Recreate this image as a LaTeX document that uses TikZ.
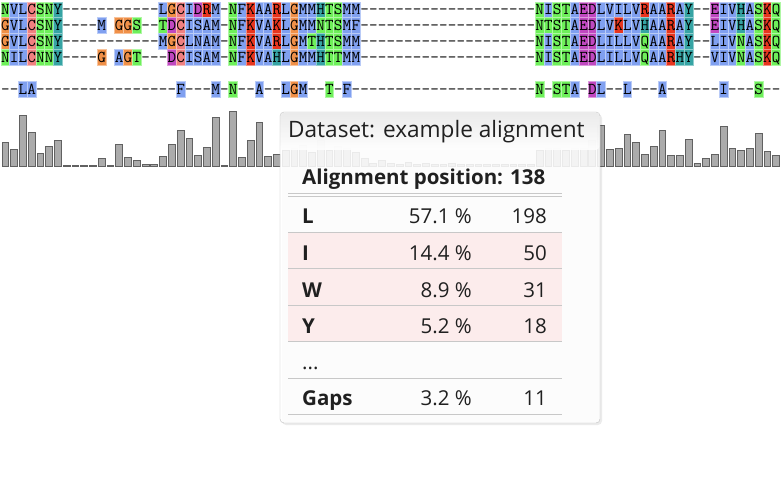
\documentclass[tikz,border=0pt]{standalone}
\usepackage{fontspec}
\usepackage{xstring}
\setmainfont{Open Sans}
\newfontfamily\monof{Latin Modern Mono}
\definecolor{ab}{HTML}{80A0F0}
\definecolor{ar}{HTML}{E8351E}
\definecolor{am}{HTML}{C048C0}
\definecolor{ag}{HTML}{6EF05A}
\definecolor{ap}{HTML}{F08080}
\definecolor{ao}{HTML}{F09048}
\definecolor{ac}{HTML}{36A4A4}
\definecolor{rowpink}{HTML}{FCECEC}
\definecolor{tline}{HTML}{C8C8C8}
\definecolor{txt}{HTML}{202020}
\def\nocolx{x}
\def\gapx{_}
\tikzset{res/.style={anchor=base,inner sep=0pt,font=\monof\fontsize{16.6}{17}\selectfont},
 bar/.style={fill=black!33,draw=black!62,line width=0.9},
 tt/.style={font=\fontsize{20.5}{24}\selectfont,text=txt,inner sep=0pt},
 tb/.style={tt,font=\bfseries\fontsize{20.5}{24}\selectfont}}
\newcommand\alrow[3]{%
 \foreach \n in {1,...,89}{%
   \StrChar{#3}{\n}[\rescol]\StrChar{#2}{\n}[\reschr]%
   \pgfmathsetmacro\xx{1+(\n-1)*8.76}%
   \ifx\rescol\nocolx\else
     \fill[fill=a\rescol,draw=white!45!a\rescol,line width=0.8] (\xx,#1-8) rectangle ++(8.76,16);
   \fi
   \ifx\reschr\gapx\else
     \node[res] at (\xx+4.38,#1+5) {\reschr};
   \fi
 }}
\begin{document}
\begin{tikzpicture}[x=1pt,y=-1pt]
\useasboundingbox (0,0) rectangle (782,492);
\fill[white] (0,0) rectangle (782,492);
\alrow{10}{NVLCSNY-----------LGCIDRM-NFKAARLGMMHTSMM--------------------NISTAEDLVILVRAARAY--EIVHASKQ}{gbbpggcxxxxxxxxxxxbopbmrbxgbrbbrbobbcggbbxxxxxxxxxxxxxxxxxxxxgbggbmmbbbbbrbbrbcxxmbbcbgrg}
\alrow{25.8}{GVLCSNY----M_GGS--TDCISAM-NFKVAKLGMMNTSMF--------------------NTSTAEDLVKLVHAARAY--EIVHASKQ}{obbpggcxxxxbxoogxxgmpbbbbxgbrbbrbobbgggbbxxxxxxxxxxxxxxxxxxxxggggbmmbbrbbcbbrbcxxmbbcbgrg}
\alrow{41.6}{GVLCSNY-----------MGCLNAM-NFKVARLGMTHTSMM--------------------NISTAEDLILLVQAARAY--LIVNASKQ}{obbpggcxxxxxxxxxxxbopbbbbxgbrbbrbobgcggbbxxxxxxxxxxxxxxxxxxxxgbggbmmbbbbbgbbrbcxxbbbgbgrg}
\alrow{57.4}{NILCNNY----G_AGT---DCISAM-NFKVAHLGMMHTTMM--------------------NISTAEDLILLVQAARHY--VIVNASKQ}{gbbpggcxxxxoxbogxxxmpbbbbxgbrbbcbobbcggbbxxxxxxxxxxxxxxxxxxxxgbggbmmbbbbbgbbrccxxbbbgbgrg}
\alrow{89.3}{--LA----------------F---M-N--A--LGM--T-F---------------------N-STA-DL--L---A------I---S--}{xxbbxxxxxxxxxxxxxxxxbxxxbxgxxbxxbobxxgxbxxxxxxxxxxxxxxxxxxxxxgxggbxmbxxbxxxbxxxxxxbxxxgxx}
% histogram
\foreach \t [count=\n from 0] in {142.7,149,115.7,132.7,153,146,140,165,165,165,165,158.7,165,144.3,157,160,164,164,156,144,130,138,155,147,117.7,165,111,157,140,122,156,154,150,148,145,152,140,150,146,148,152,158,163,160,163,164,162,164,163,164,164,163,164,164,164,164,164,164,164,164,164,150,148,148,150,148,148,140,125,149,148.7,134,142,154,146,130.7,155,155,139.7,163.7,158.7,154,126,148,150,148,133,151,155}{
  \draw[bar] ({2+\n*8.76},166) rectangle ({8.8+\n*8.76},\t);
}
% tooltip
\fill[black,opacity=0.08,rounded corners=4] (282,114) rectangle (602,425);
\fill[white,opacity=0.88,rounded corners=4] (280,112) rectangle (600,423);
\shade[top color=black!9,bottom color=white,opacity=0.85,rounded corners=4] (280.5,112.5) rectangle (599.5,150);
\draw[black!25,rounded corners=4] (280,112) rectangle (600,423);
\node[tt,anchor=base west,font=\fontsize{22.6}{26}\selectfont] (hdr) at (288,138) {Dataset: example alignment};
\fill[rowpink] (288,232) rectangle (562,341);
\foreach \y in {232,268,305,341,378,414}{\draw[tline] (288,\y) -- (562,\y);}
\draw[tline] (288,193) -- (562,193);
\draw[tline] (288,196) -- (562,196);
\node[tb,anchor=base west] (pos) at (302,185) {Alignment position: 138};
\node[tb,anchor=base west] (aL) at (302,223) {L};
\node[tt,anchor=base east] (pL) at (472,223) {57.1 \%};
\node[tt,anchor=base east] (cL) at (547,223) {198};
\node[tb,anchor=base west] (aI) at (302,260) {I};
\node[tt,anchor=base east] (pI) at (472,260) {14.4 \%};
\node[tt,anchor=base east] (cI) at (547,260) {50};
\node[tb,anchor=base west] (aW) at (302,297) {W};
\node[tt,anchor=base east] (pW) at (472,297) {8.9 \%};
\node[tt,anchor=base east] (cW) at (547,297) {31};
\node[tb,anchor=base west] (aY) at (302,333) {Y};
\node[tt,anchor=base east] (pY) at (472,333) {5.2 \%};
\node[tt,anchor=base east] (cY) at (547,333) {18};
\node[tt,anchor=base west] (dots) at (302,369) {...};
\node[tb,anchor=base west] (aG) at (302,405) {Gaps};
\node[tt,anchor=base east] (pG) at (472,405) {3.2 \%};
\node[tt,anchor=base east] (cG) at (547,405) {11};
\end{tikzpicture}
\end{document}
